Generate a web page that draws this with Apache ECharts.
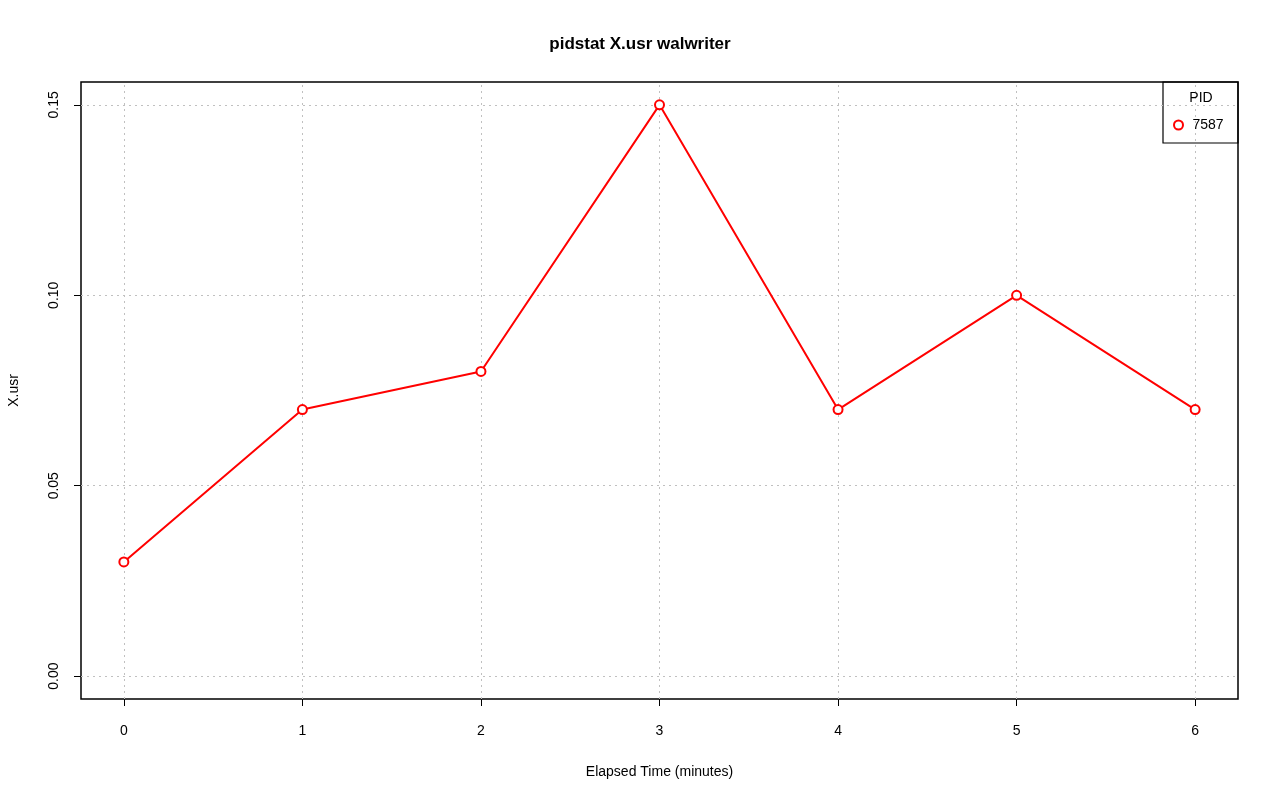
<!DOCTYPE html>
<html><head><meta charset="utf-8">
<script src="https://cdn.jsdelivr.net/npm/echarts@6/dist/echarts.min.js"></script>
<style>html,body{margin:0;padding:0;background:#fff}#c{width:1280px;height:801px}</style>
</head><body><div id="c"></div>
<script>
const minutes = [0, 1, 2, 3, 4, 5, 6];
const usrValues = [0.03, 0.07, 0.08, 0.15, 0.07, 0.10, 0.07];
const xTicks = [0, 1, 2, 3, 4, 5, 6];
const yTicks = [0, 0.05, 0.10, 0.15];
const yTickLabels = ['0.00', '0.05', '0.10', '0.15'];
const seriesName = '7587';

const F = 'Liberation Sans, Arial, Helvetica, sans-serif';
const chart = echarts.init(document.getElementById('c'), null, {renderer: 'canvas'});
const gridLineStyle = {color: '#c0c0c0', type: [2, 4], width: 1};
const markData = [];
xTicks.forEach(v => markData.push({xAxis: v}));
yTicks.forEach(v => markData.push({yAxis: v}));

chart.setOption({
  animation: false,
  title: {text: 'pidstat X.usr walwriter', left: 'center', top: 31,
    textStyle: {fontFamily: F, fontSize: 17, fontWeight: 'bold', color: '#000'}},
  grid: {left: 81, right: 42, top: 82, bottom: 102, containLabel: false, outerBoundsMode: 'none',
    show: true, borderColor: '#000', borderWidth: 1.5, backgroundColor: 'transparent'},
  xAxis: {type: 'value', min: -0.24, max: 6.24,
    name: 'Elapsed Time (minutes)', nameLocation: 'middle', nameGap: 66,
    nameTextStyle: {fontFamily: F, fontSize: 14, color: '#000'},
    axisLine: {show: false, onZero: false},
    axisTick: {show: true, inside: false, length: 7, customValues: xTicks, lineStyle: {color: '#000', width: 1}},
    axisLabel: {customValues: xTicks, margin: 25, fontFamily: F, fontSize: 14, color: '#000'},
    splitLine: {show: false}},
  yAxis: {type: 'value', min: -0.006, max: 0.156,
    name: 'X.usr', nameLocation: 'middle', nameGap: 60, nameRotate: 90,
    nameTextStyle: {fontFamily: F, fontSize: 14, color: '#000'},
    axisLine: {show: false, onZero: false},
    axisTick: {show: true, inside: false, length: 7, customValues: yTicks, lineStyle: {color: '#000', width: 1}},
    axisLabel: {customValues: yTicks, rotate: 90, margin: 20, fontFamily: F, fontSize: 14, color: '#000',
      formatter: v => { const i = yTicks.findIndex(t => Math.abs(t - v) < 1e-9); return i >= 0 ? yTickLabels[i] : ''; }},
    splitLine: {show: false}},
  legend: {show: true, left: 1173, top: 118, orient: 'vertical', itemWidth: 10, itemHeight: 9, itemGap: 4,
    padding: 0,
    textStyle: {fontFamily: F, fontSize: 14, color: '#000', padding: [0, 0, 0, 4]},
    data: [{name: seriesName, icon: 'circle', itemStyle: {color: '#fff', borderColor: '#ff0000', borderWidth: 2}}]},
  graphic: [
    {type: 'rect', shape: {x: 1163, y: 82, width: 75, height: 61}, style: {fill: '#fff', stroke: '#000', lineWidth: 1.2}, z: -1},
    {type: 'text', x: 1201, y: 91, style: {text: 'PID', fontFamily: F, fontSize: 14, fill: '#000', align: 'center'}, z: 11}
  ],
  series: [{
    name: seriesName, type: 'line',
    data: minutes.map((m, i) => [m, usrValues[i]]),
    symbol: 'circle', symbolSize: 9,
    itemStyle: {color: '#fff', borderColor: '#ff0000', borderWidth: 2},
    lineStyle: {color: '#ff0000', width: 2},
    z: 5,
    markLine: {silent: true, symbol: 'none', label: {show: false}, lineStyle: gridLineStyle, data: markData, z: 1}
  }]
});
</script></body></html>
